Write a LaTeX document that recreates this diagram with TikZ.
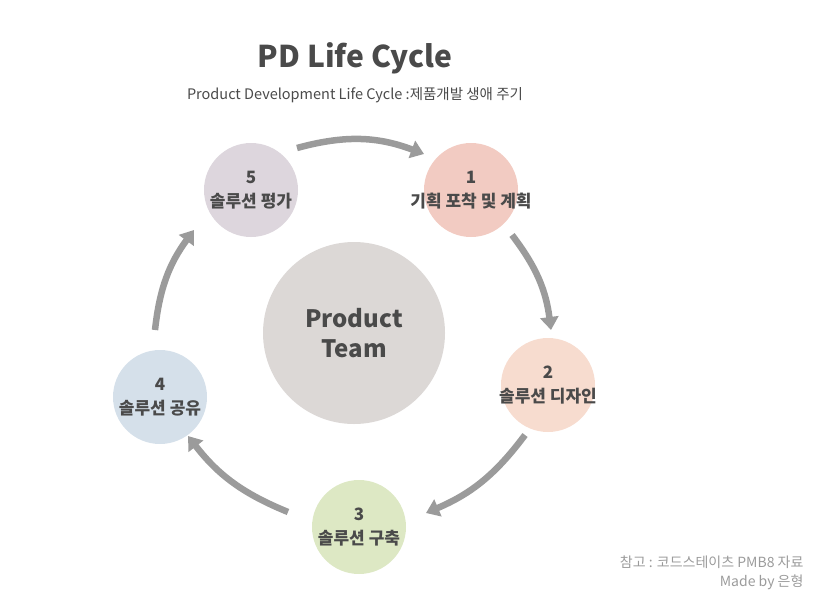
\documentclass[tikz,border=0pt]{standalone}
\usepackage{fontspec}
\setmainfont{Noto Sans CJK KR}
\usetikzlibrary{arrows.meta}
\definecolor{cC}{HTML}{DCD8D6}
\definecolor{c1}{HTML}{F2CBC2}
\definecolor{c2}{HTML}{F7DCCF}
\definecolor{c3}{HTML}{DDE8C4}
\definecolor{c4}{HTML}{D5E0EA}
\definecolor{c5}{HTML}{DDD6DD}
\definecolor{txt}{HTML}{4A4A4A}
\definecolor{arr}{HTML}{9B9B9B}
\begin{document}
\begin{tikzpicture}[x=1pt,y=-1pt,
  stage/.style={circle,minimum size=94pt,inner sep=0pt},
  stxt/.style={align=center,text=txt,font=\bfseries\fontsize{17}{24}\selectfont},
  flow/.style={arr,line width=6.5pt,-{Triangle[length=13pt,width=18pt]}}]
\useasboundingbox (0,0) rectangle (818,608);
\node[circle,fill=cC,minimum size=182pt,inner sep=0pt,align=center,text=txt,font=\bfseries\fontsize{24}{30}\selectfont] (c) at (354,333) {Product\\Team};
\node[stage,fill=c1,label={[stxt]center:1\\기획 포착 및 계획}] (s1) at (471,190) {};
\node[stage,fill=c2,label={[stxt]center:2\\솔루션 디자인}] (s2) at (548,385) {};
\node[stage,fill=c3,label={[stxt]center:3\\솔루션 구축}] (s3) at (359,527) {};
\node[stage,fill=c4,label={[stxt]center:4\\솔루션 공유}] (s4) at (160,397) {};
\node[stage,fill=c5,label={[stxt]center:5\\솔루션 평가}] (s5) at (251,190) {};
\coordinate (a1s) at (297,148); \coordinate (a1e) at (424,154);
\coordinate (a2s) at (512,235); \coordinate (a2e) at (551,330);
\coordinate (a3s) at (525,435); \coordinate (a3e) at (426,513);
\coordinate (a4s) at (288,512); \coordinate (a4e) at (188,436);
\coordinate (a5s) at (155,330); \coordinate (a5e) at (194,230);
\draw[flow] (a1s) to[bend left=18] (a1e);
\draw[flow] (a2s) to[bend left=15] (a2e);
\draw[flow] (a3s) to[bend left=15] (a3e);
\draw[flow] (a4s) to[bend left=15] (a4e);
\draw[flow] (a5s) to[bend left=15] (a5e);
\node[text=txt,font=\bfseries\fontsize{30}{36}\selectfont] (t) at (355,58) {PD Life Cycle};
\node[text=txt,font=\fontsize{14.5}{18}\selectfont] (st) at (355,95) {Product Development Life Cycle :제품개발 생애 주기};
\node[anchor=east,text=arr,font=\fontsize{14}{17}\selectfont] (r1) at (807,562) {참고 : 코드스테이츠 PMB8 자료};
\node[anchor=east,text=arr,font=\fontsize{14}{17}\selectfont] (r2) at (807,582) {Made by 은형};
\end{tikzpicture}
\end{document}
